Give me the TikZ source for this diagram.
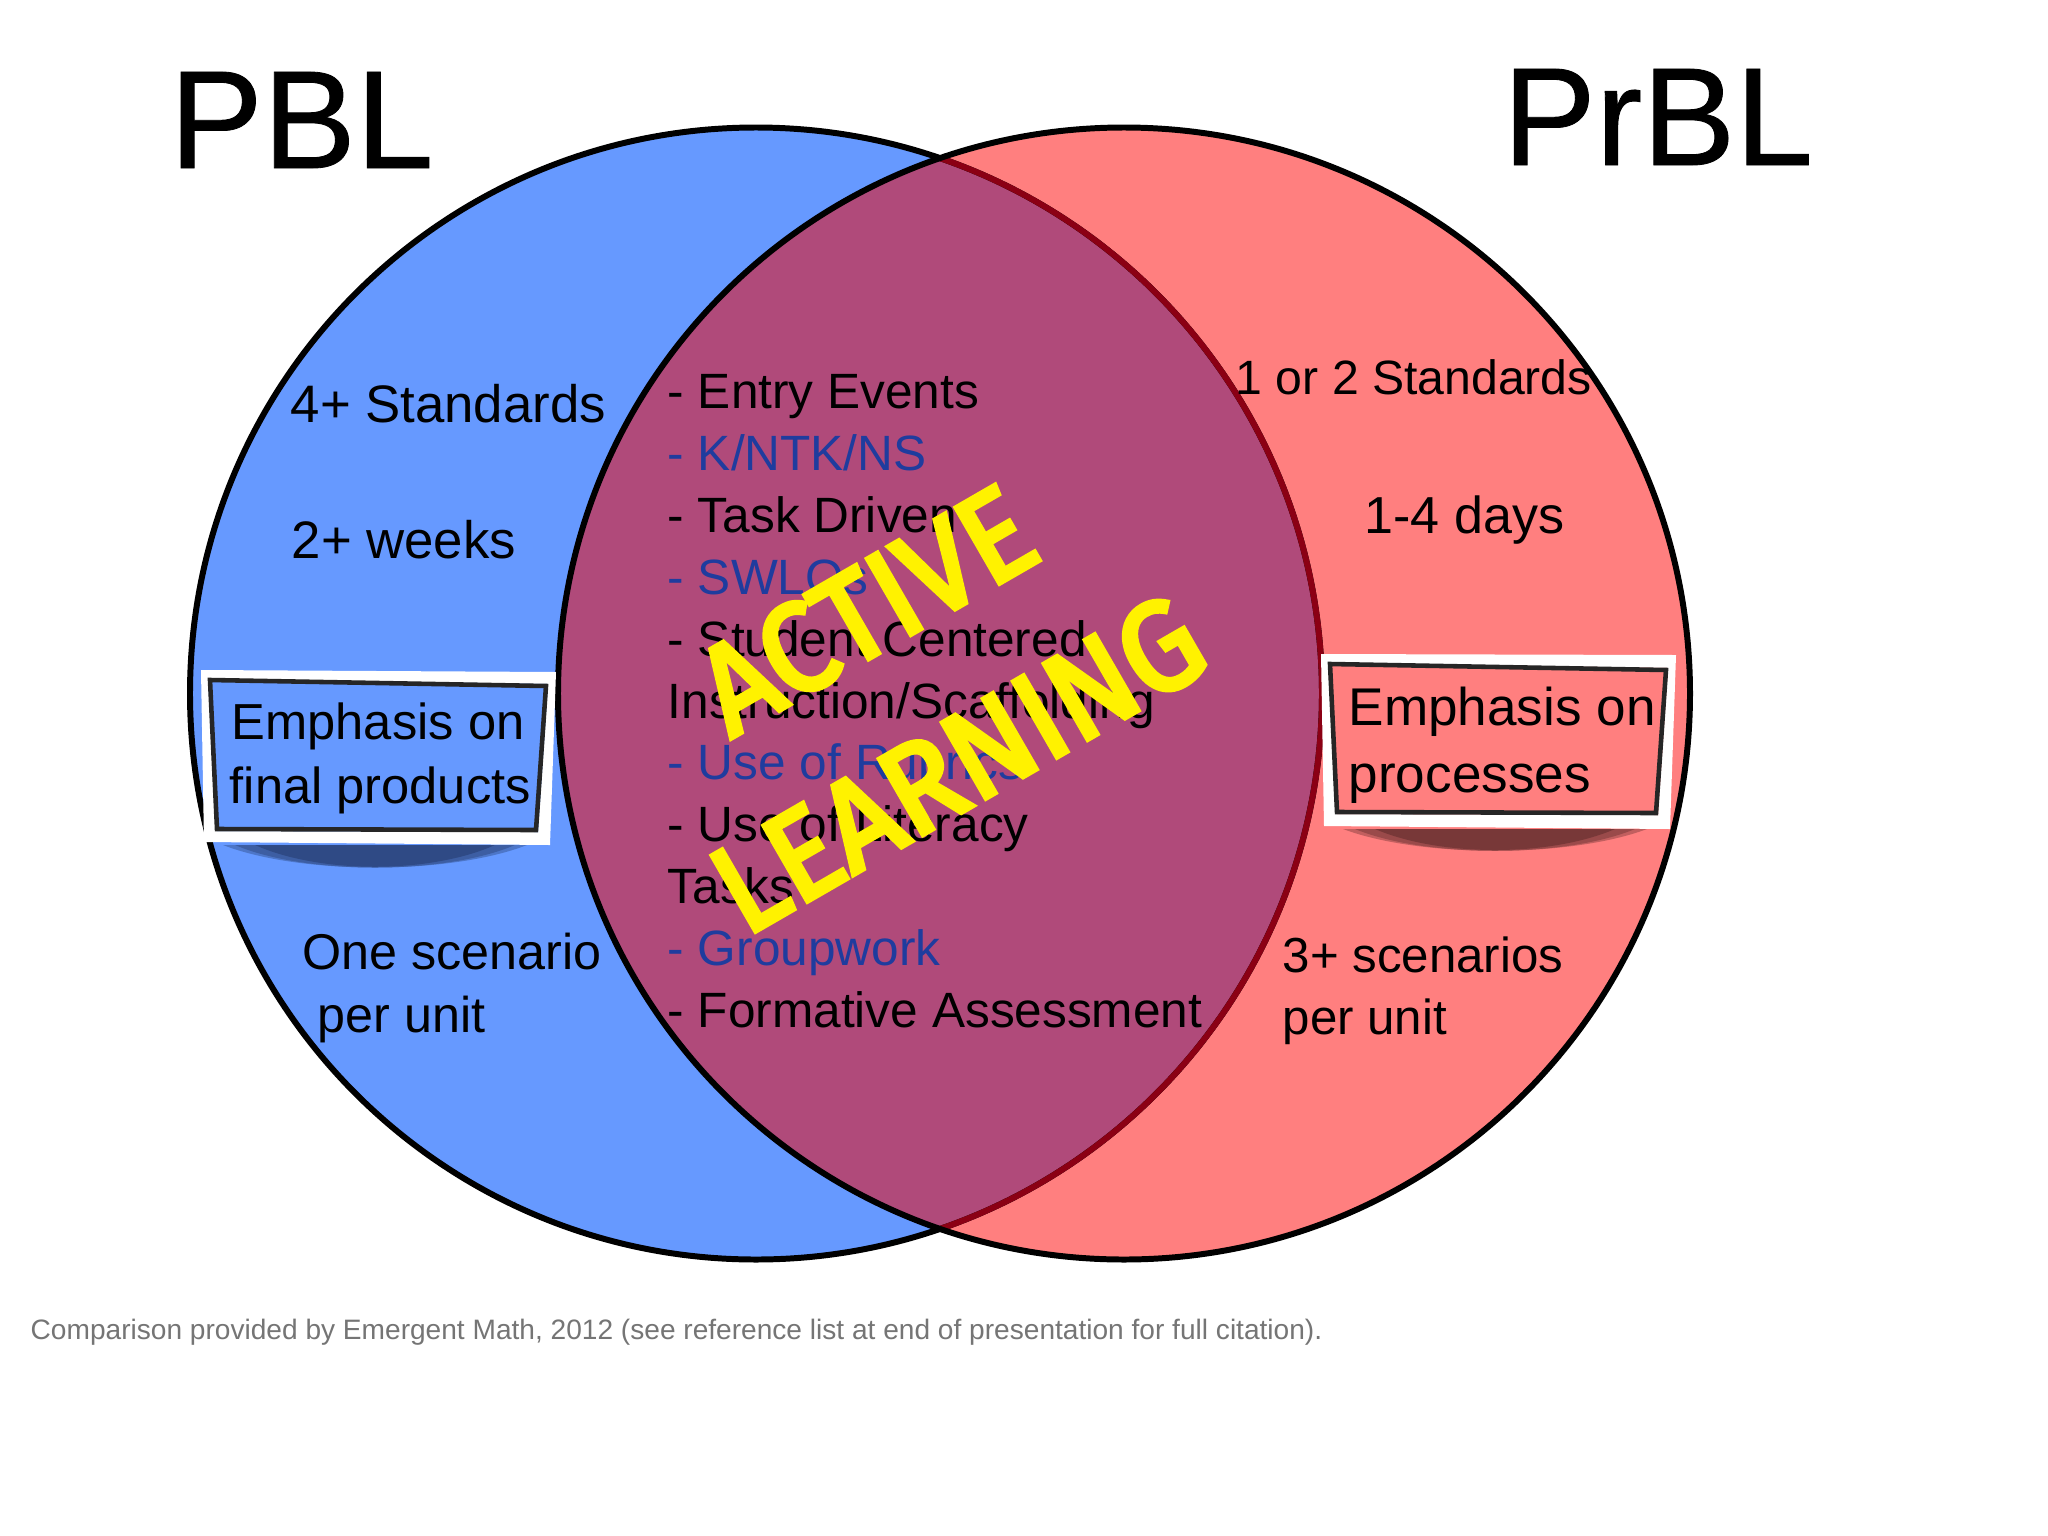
\documentclass[tikz,border=0pt]{standalone}
\usepackage{fontspec}
\setmainfont{Liberation Sans}
\newfontfamily\brushfont[FakeBold=4,FakeStretch=0.95]{Fira Sans}
\newfontfamily\titlefont[FakeBold=0.6]{Liberation Sans}
\definecolor{pblblue}{HTML}{6699FF}
\definecolor{prblred}{HTML}{FF7F7F}
\definecolor{lens}{HTML}{B04A7A}
\definecolor{darkred}{HTML}{8B0014}
\definecolor{linkblue}{HTML}{1F3C9E}
\definecolor{notegray}{HTML}{757575}
\definecolor{bluedrop}{HTML}{2F4A85}
\definecolor{reddrop}{HTML}{783838}
\begin{document}
\begin{tikzpicture}[x=0.01cm,y=-0.01cm]
\tikzstyle{tx} = [anchor=base west,inner sep=0pt,font=\fontsize{14.3}{17}\selectfont] %plain text
\tikzstyle{ln} = [tx,text=black,font=\fontsize{14.1}{17}\selectfont] %list line
\tikzstyle{lk} = [ln,text=linkblue] %blue list line
\tikzstyle{ti} = [anchor=base west,inner sep=0pt,font=\titlefont\fontsize{39.7}{44}\selectfont] %title
\tikzstyle{al} = [inner sep=0pt,text=yellow,rotate=30,font=\brushfont\fontsize{36}{40}\selectfont] %overlay
\tikzstyle{fr} = [draw=black!85,line width=1.3pt] %box frame
\tikzstyle{ci} = [line width=1.7pt] %circle outline
\useasboundingbox (0,0) rectangle (2048,1536);
% circles
\fill[white] (0,0) rectangle (2048,1536);
\fill[pblblue] (756,693.5) circle (566);
\fill[prblred] (1124,693.5) circle (566);
\begin{scope}
\clip (756,693.5) circle (566);
\fill[lens] (1124,693.5) circle (566);
\end{scope}
\draw[ci,black] (756,693.5) circle (566);
\begin{scope}
\clip (1124,693.5) circle (566);
\draw[ci,darkred] (756,693.5) circle (566);
\end{scope}
\draw[ci,black] (1124,693.5) circle (566);
% left box
\fill[bluedrop!45!pblblue] (223,845) .. controls (300,875) and (450,875) .. (527,845) -- cycle;
\fill[bluedrop!75!pblblue] (235,845) .. controls (305,875) and (445,875) .. (515,845) -- cycle;
\fill[bluedrop] (255,845) .. controls (320,874) and (430,874) .. (495,845) -- cycle;
\fill[white] (201,670) -- (556,672) -- (550,845) -- (204,842) -- cycle;
\fill[pblblue] (208,679) -- (548,684) -- (538,832) -- (217,831) -- cycle;
\draw[fr] (210,680) -- (546,686) -- (536,830) -- (217,829) -- cycle;
% right box
\fill[reddrop!45!prblred] (1343,829) .. controls (1420,858) and (1570,858) .. (1647,829) -- cycle;
\fill[reddrop!75!prblred] (1355,829) .. controls (1425,858) and (1565,858) .. (1635,829) -- cycle;
\fill[reddrop] (1375,829) .. controls (1440,857) and (1550,857) .. (1615,829) -- cycle;
\fill[white] (1321,654) -- (1676,655) -- (1670,829) -- (1324,826) -- cycle;
\fill[prblred] (1328,663) -- (1668,668) -- (1658,815) -- (1337,814) -- cycle;
\draw[fr] (1330,664) -- (1666,670) -- (1656,813) -- (1337,812) -- cycle;
% titles
\node[ti](pbl)at(169,168){PBL};
\node[ti](prbl)at(1502,165){PrBL};
% left side
\node[tx,font=\fontsize{15}{17}\selectfont](la)at(290,422){4+ Standards};
\node[tx,font=\fontsize{15}{17}\selectfont](lb)at(291,558){2+ weeks};
\node[tx,font=\fontsize{14.4}{17}\selectfont](lc)at(231,739){Emphasis on};
\node[tx,font=\fontsize{14.4}{17}\selectfont](ld)at(229,803){final products};
\node[tx](le)at(302,969){One scenario};
\node[tx](lf)at(317,1032){per unit};
% right side
\node[tx,font=\fontsize{13.7}{17}\selectfont](ra)at(1235,394){1 or 2 Standards};
\node[tx,font=\fontsize{14.8}{17}\selectfont](rb)at(1364,533){1-4 days};
\node[tx,font=\fontsize{15.1}{17}\selectfont](rc)at(1348,725){Emphasis on};
\node[tx,font=\fontsize{15.1}{17}\selectfont](rd)at(1348,792){processes};
\node[tx,font=\fontsize{14}{17}\selectfont](re)at(1282,972){3+ scenarios};
\node[tx,font=\fontsize{14}{17}\selectfont](rf)at(1282,1034){per unit};
% middle list
\node[ln](ma)at(667,408.5){- Entry Events};
\node[lk](mb)at(667,470.5){- K/NTK/NS};
\node[ln](mc)at(667,532.5){- Task Driven};
\node[lk](md)at(667,594.5){- SWLOs};
\node[ln](me)at(667,656.5){- Student Centered};
\node[ln](mf)at(667,718.5){Instruction/Scaffolding};
\node[lk](mg)at(667,779.5){- Use of Rubrics};
\node[ln](mh)at(667,841.5){- Use of Literacy};
\node[ln](mi)at(667,903.5){Tasks};
\node[lk](mj)at(667,965.5){- Groupwork};
\node[ln](mk)at(667,1027.5){- Formative Assessment};
% overlay
\node[al](act)at(866,610){ACTIVE};
\node[al](lrn)at(958,764){LEARNING};
% caption
\node[anchor=base west,inner sep=0pt,text=notegray,font=\fontsize{7.99}{10}\selectfont](cap)at(30,1339){Comparison provided by Emergent Math, 2012 (see reference list at end of presentation for full citation).};
\end{tikzpicture}
\end{document}
